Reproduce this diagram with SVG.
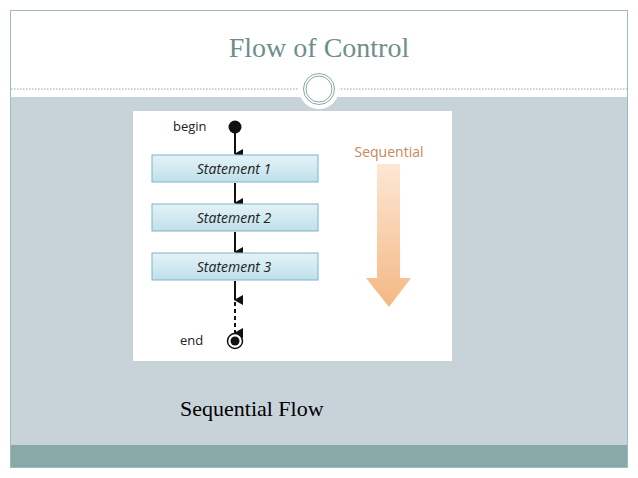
<svg xmlns="http://www.w3.org/2000/svg" width="638" height="478" viewBox="0 0 638 478">
<style>
.box{fill:url(#bg);stroke:#7fb3c4;stroke-width:1}
.st{font-family:"Open Sans","DejaVu Sans",sans-serif;font-style:italic;font-size:14px;fill:#222;text-anchor:middle}
.lb{font-family:"Open Sans","DejaVu Sans",sans-serif;font-size:13px;fill:#222}
.ln{stroke:#111;stroke-width:2;fill:none}
</style>
<defs>
<linearGradient id="bg" x1="0" y1="0" x2="0" y2="1"><stop offset="0" stop-color="#e4f3f7"/><stop offset="1" stop-color="#bfe0ea"/></linearGradient>
<linearGradient id="og" x1="0" y1="0" x2="0" y2="1"><stop offset="0" stop-color="#fde7d4"/><stop offset="1" stop-color="#f4b883"/></linearGradient>
<marker id="ah" markerWidth="10" markerHeight="10" refX="5" refY="8" orient="auto" markerUnits="userSpaceOnUse"><path d="M0,0 L10,0 L5,9 z" fill="#111"/></marker>
</defs>
<rect width="638" height="478" fill="#fff"/>
<rect x="10.5" y="10.5" width="617" height="457" fill="#fff" stroke="#9dbcbc"/>
<rect x="11" y="97" width="616" height="348" fill="#c7d3d9"/>
<rect x="11" y="445" width="616" height="22" fill="#89a9a9"/>
<line x1="11" y1="89" x2="627" y2="89" stroke="#8aa" stroke-dasharray="1.5,1.5"/>
<circle cx="319" cy="89" r="20" fill="#fff"/>
<circle cx="319" cy="89" r="15.5" fill="none" stroke="#8aa"/>
<circle cx="319" cy="89" r="13" fill="none" stroke="#8aa"/>
<text x="319" y="57" font-family="Georgia,'Liberation Serif',serif" font-size="28" fill="#6e8e8e" text-anchor="middle">Flow of Control</text>
<rect x="133" y="111" width="319" height="250" fill="#fff"/>
<g id="connectors">
<line class="ln" x1="235" y1="133" x2="235" y2="154" marker-end="url(#ah)"/>
<line class="ln" x1="235" y1="183" x2="235" y2="203" marker-end="url(#ah)"/>
<line class="ln" x1="235" y1="232" x2="235" y2="252" marker-end="url(#ah)"/>
<line class="ln" x1="235" y1="281" x2="235" y2="300" marker-end="url(#ah)"/>
<line class="ln" x1="235" y1="302" x2="235" y2="333" stroke-dasharray="4,3" marker-end="url(#ah)"/>
</g>
<g id="begin"><text class="lb" x="173" y="131">begin</text><circle cx="235" cy="127" r="6.5" fill="#111"/></g>
<g id="s1"><rect class="box" x="152" y="155" width="166" height="27"/><text class="st" x="234" y="174">Statement 1</text></g>
<g id="s2"><rect class="box" x="152" y="204" width="166" height="27"/><text class="st" x="234" y="223">Statement 2</text></g>
<g id="s3"><rect class="box" x="152" y="253" width="166" height="27"/><text class="st" x="234" y="272">Statement 3</text></g>
<g id="end"><text class="lb" x="180" y="345">end</text><circle cx="235" cy="341" r="7.5" fill="#fff" stroke="#111" stroke-width="1.5"/><circle cx="235" cy="341" r="4.5" fill="#111"/></g>
<g id="seq"><text x="389" y="157" font-family="'Open Sans','DejaVu Sans',sans-serif" font-size="14" fill="#c8875a" text-anchor="middle">Sequential</text>
<path d="M377,164 H400 V278 H411 L389,307 L366,278 H377 Z" fill="url(#og)"/></g>
<text x="180" y="416" font-family="'Liberation Serif',serif" font-size="22" fill="#000">Sequential Flow</text>
</svg>
